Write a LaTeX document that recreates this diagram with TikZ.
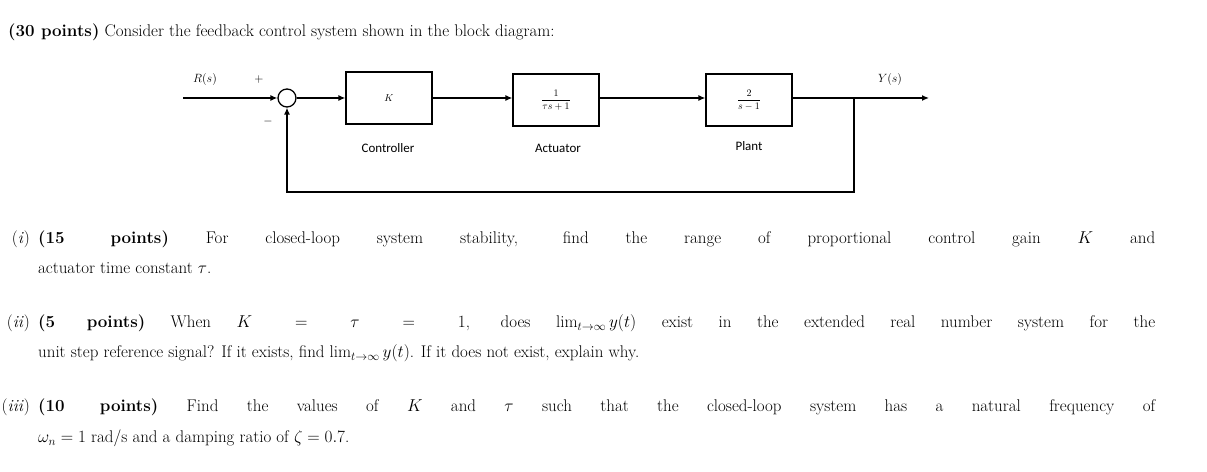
\documentclass[tikz,border=0pt]{standalone}
\usepackage{amsmath}
\usepackage{fontspec}
\newfontfamily\lab{Carlito}
\usetikzlibrary{arrows.meta}
\begin{document}
\begin{tikzpicture}[x=1bp,y=-1bp,
  blk/.style={draw,line width=1.3pt,minimum width=86bp,minimum height=52bp,inner sep=0pt},
  sig/.style={line width=1.3pt,-{Latex[length=7bp,width=6bp]}},
  ln/.style={line width=1.3pt},
  lbl/.style={font=\lab\fontsize{13}{15}\selectfont},
  txt/.style={anchor=base west,inner sep=0pt,font=\fontsize{17}{20}\selectfont},
  num/.style={anchor=base east,inner sep=0pt,font=\fontsize{17}{20}\selectfont}]
\useasboundingbox (0,0) rectangle (1207,472);
\clip (0,0) rectangle (1207,472);
\node[txt] (title) at (8,37) {\textbf{(30 points)} Consider the feedback control system shown in the block diagram:};
% diagram
\node[circle,draw,line width=1.3pt,minimum size=18bp,inner sep=0pt] (sum) at (287,98) {};
\coordinate (in) at (183,98);
\node[blk] (c) at (389,98) {$K$};
\node[blk] (a) at (556,100) {$\dfrac{1}{\tau s+1}$};
\node[blk] (p) at (749,100) {$\dfrac{2}{s-1}$};
\coordinate (br) at (854,98);
\coordinate (out) at (929,98);
\coordinate (bl) at (854,192);
\coordinate (bll) at (287,192);
\draw[sig] (in) -- (sum);
\draw[sig] (sum) -- (c);
\draw[sig] (c.east) -- (c.east -| a.west);
\draw[sig] (c.east -| a.east) -- (c.east -| p.west);
\draw[sig] (c.east -| p.east) -- (out);
\draw[sig] (br) -- (bl) -- (bll) -- (sum);
\node[lbl] (rl) at (205,80) {$R(s)$};
\node[lbl] (yl) at (890,80) {$Y(s)$};
\node[lbl] (pl) at (259,80) {$+$};
\node[lbl] (mi) at (268,122) {$-$};
\node[lbl] (cl) at (388,148) {Controller};
\node[lbl] (al) at (558,148) {Actuator};
\node[lbl] (ptl) at (749,146) {Plant};
% questions
\node[num] (n1) at (30,244) {(\textit{i})};
\node[txt] (q1a) at (38,244) {\makebox[1117bp][s]{\textbf{(15 points)} For closed-loop system stability, find the range of proportional control gain $K$ and}};
\node[txt] (q1b) at (38,274) {actuator time constant $\tau$.};
\node[num] (n2) at (30,328) {(\textit{ii})};
\node[txt] (q2a) at (38,328) {\makebox[1117bp][s]{\textbf{(5 points)} When $K=\tau=1$, does $\lim_{t\to\infty}y(t)$ exist in the extended real number system for the}};
\node[txt] (q2b) at (38,358) {unit step reference signal? If it exists, find $\lim_{t\to\infty}y(t)$. If it does not exist, explain why.};
\node[num] (n3) at (30,412) {(\textit{iii})};
\node[txt] (q3a) at (38,412) {\makebox[1117bp][s]{\textbf{(10 points)} Find the values of $K$ and $\tau$ such that the closed-loop system has a natural frequency of}};
\node[txt] (q3b) at (38,443) {$\omega_n=1$ rad/s and a damping ratio of $\zeta=0.7$.};
\end{tikzpicture}
\end{document}
